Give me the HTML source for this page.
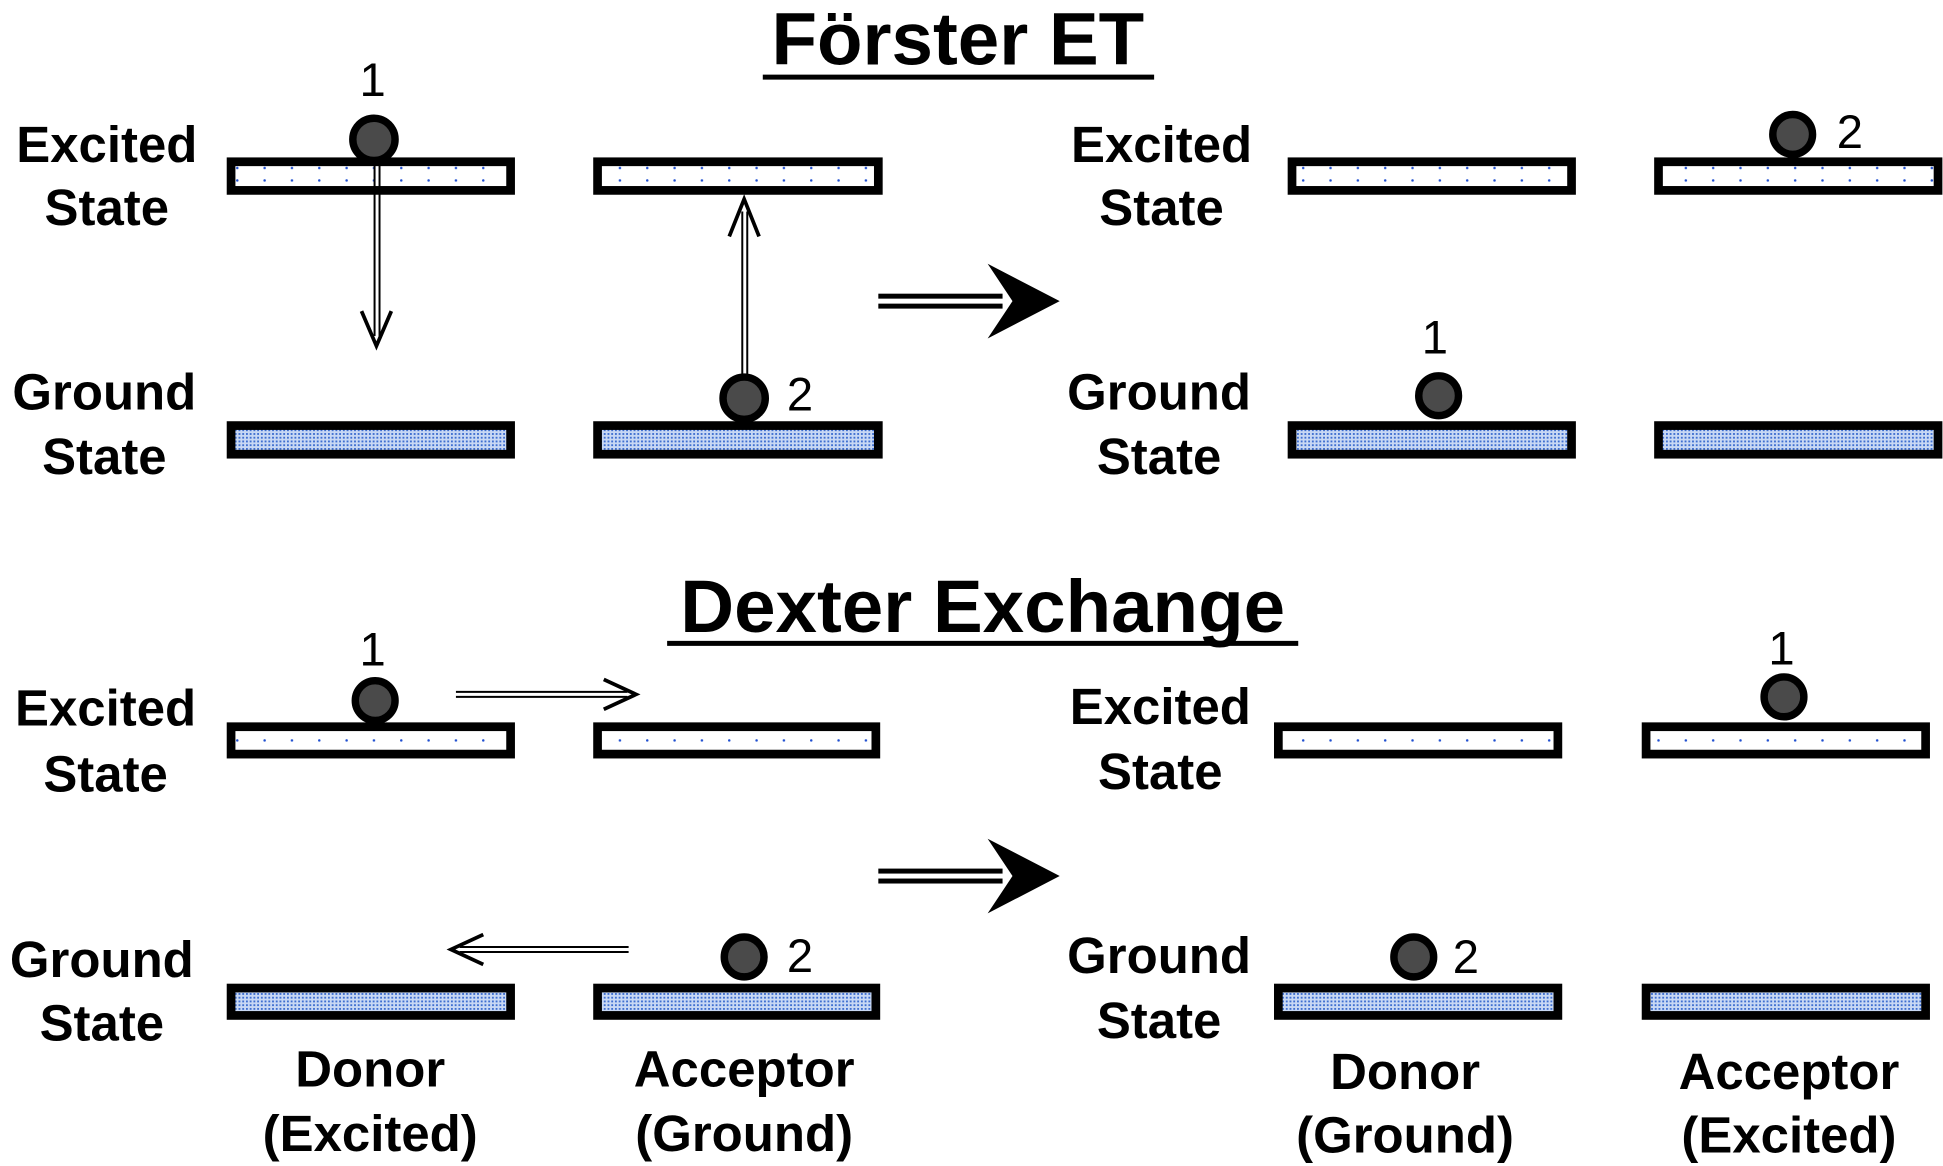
<!DOCTYPE html>
<html><head><meta charset="utf-8"><style>html,body{margin:0;padding:0;background:#fff}svg{display:block}</style></head>
<body>
<svg width="1943" height="1166" viewBox="0 0 1564 937" preserveAspectRatio="none" xmlns="http://www.w3.org/2000/svg">
<defs>
<pattern id="gd" width="3" height="3" patternUnits="userSpaceOnUse"><rect width="3" height="3" fill="#c8d8f4"/><rect width="1.5" height="1.5" fill="#3f6fd0"/></pattern>
<pattern id="ed" x="4" width="22" height="10" patternUnits="userSpaceOnUse"><rect width="22" height="10" fill="#fff"/><circle cx="11" cy="5" r="1" fill="#1f4fd0"/></pattern>
<marker id="ah" markerWidth="10" markerHeight="12" refX="9" refY="6" orient="auto" markerUnits="userSpaceOnUse"><path d="M0,0 L10,6 L0,12" fill="none" stroke="#000" stroke-width="2"/></marker>
</defs>
<g font-family="Liberation Sans, Arial, sans-serif" font-weight="bold" font-size="41" text-anchor="middle" fill="#000">
<text x="771" y="52" font-size="60">Förster ET</text>
<text x="791" y="508" font-size="60">Dexter Exchange</text>
<text x="86" y="130">Excited</text><text x="86" y="181">State</text>
<text x="84" y="329">Ground</text><text x="84" y="381">State</text>
<text x="935" y="130">Excited</text><text x="935" y="181">State</text>
<text x="933" y="329">Ground</text><text x="933" y="381">State</text>
<text x="85" y="583">Excited</text><text x="85" y="636">State</text>
<text x="82" y="785">Ground</text><text x="82" y="836">State</text>
<text x="934" y="582">Excited</text><text x="934" y="634">State</text>
<text x="933" y="782">Ground</text><text x="933" y="834">State</text>
<text x="298" y="873">Donor</text><text x="298" y="925">(Excited)</text>
<text x="599" y="873">Acceptor</text><text x="599" y="925">(Ground)</text>
<text x="1131" y="875">Donor</text><text x="1131" y="926">(Ground)</text>
<text x="1440" y="875">Acceptor</text><text x="1440" y="926">(Excited)</text>
</g>
<g stroke="#000" stroke-width="4">
<line x1="614" y1="62" x2="929" y2="62"/>
<line x1="537" y1="517" x2="1045" y2="517"/>
</g>
<g stroke="#000" stroke-width="7">
<rect x="186" y="130" width="225" height="23" fill="url(#ed)"/>
<rect x="481" y="130" width="226" height="23" fill="url(#ed)"/>
<rect x="1040" y="130" width="225" height="23" fill="url(#ed)"/>
<rect x="1335" y="130" width="225" height="23" fill="url(#ed)"/>
<rect x="186" y="342" width="225" height="23" fill="url(#gd)"/>
<rect x="481" y="342" width="226" height="23" fill="url(#gd)"/>
<rect x="1040" y="342" width="225" height="23" fill="url(#gd)"/>
<rect x="1335" y="342" width="225" height="23" fill="url(#gd)"/>
<rect x="186" y="584" width="225" height="22" fill="url(#ed)"/>
<rect x="481" y="584" width="224" height="22" fill="url(#ed)"/>
<rect x="1029" y="584" width="225" height="22" fill="url(#ed)"/>
<rect x="1325" y="584" width="225" height="22" fill="url(#ed)"/>
<rect x="186" y="794" width="225" height="22" fill="url(#gd)"/>
<rect x="481" y="794" width="224" height="22" fill="url(#gd)"/>
<rect x="1029" y="794" width="225" height="22" fill="url(#gd)"/>
<rect x="1325" y="794" width="225" height="22" fill="url(#gd)"/>
</g>
<!-- thin double arrows -->
<g fill="none" stroke="#000" stroke-width="1.6">
<line x1="301.5" y1="125" x2="301.5" y2="270"/><line x1="305.5" y1="125" x2="305.5" y2="270"/>
<path d="M291,250 L303,278 L315,250" stroke-width="3"/>
<line x1="597.5" y1="318" x2="597.5" y2="170"/><line x1="601.5" y1="318" x2="601.5" y2="170"/>
<path d="M587,190 L599,160 L611,190" stroke-width="3"/>
<line x1="367" y1="556" x2="505" y2="556"/><line x1="367" y1="560" x2="505" y2="560"/>
<path d="M486,546 L512,558 L486,570" stroke-width="3"/>
<line x1="370" y1="761" x2="506" y2="761"/><line x1="370" y1="765" x2="506" y2="765"/>
<path d="M389,751 L363,763 L389,775" stroke-width="3"/>
</g>
<!-- big arrows -->
<g>
<rect x="707" y="236" width="100" height="4"/><rect x="707" y="244" width="100" height="4"/>
<path d="M795,212 L853,242 L795,272 L815,242 Z"/>
<rect x="707" y="698" width="100" height="4"/><rect x="707" y="706" width="100" height="4"/>
<path d="M795,674 L853,704 L795,734 L815,704 Z"/>
</g>
<!-- electrons -->
<g fill="#4a4a4a" stroke="#000" stroke-width="6">
<circle cx="301" cy="112" r="17"/><circle cx="599" cy="320" r="17"/>
<circle cx="1443" cy="108" r="16"/><circle cx="1158" cy="318" r="16"/>
<circle cx="302" cy="563" r="16"/><circle cx="599" cy="769" r="16"/>
<circle cx="1436" cy="560" r="16"/><circle cx="1138" cy="769" r="16"/>
</g>
<g font-family="Liberation Sans, Arial, sans-serif" font-size="38" text-anchor="middle" fill="#000">
<text x="300" y="77">1</text><text x="644" y="330">2</text>
<text x="1489" y="119">2</text><text x="1155" y="284">1</text>
<text x="300" y="535">1</text><text x="644" y="781">2</text>
<text x="1434" y="534">1</text><text x="1180" y="782">2</text>
</g>
</svg>
</body></html>
